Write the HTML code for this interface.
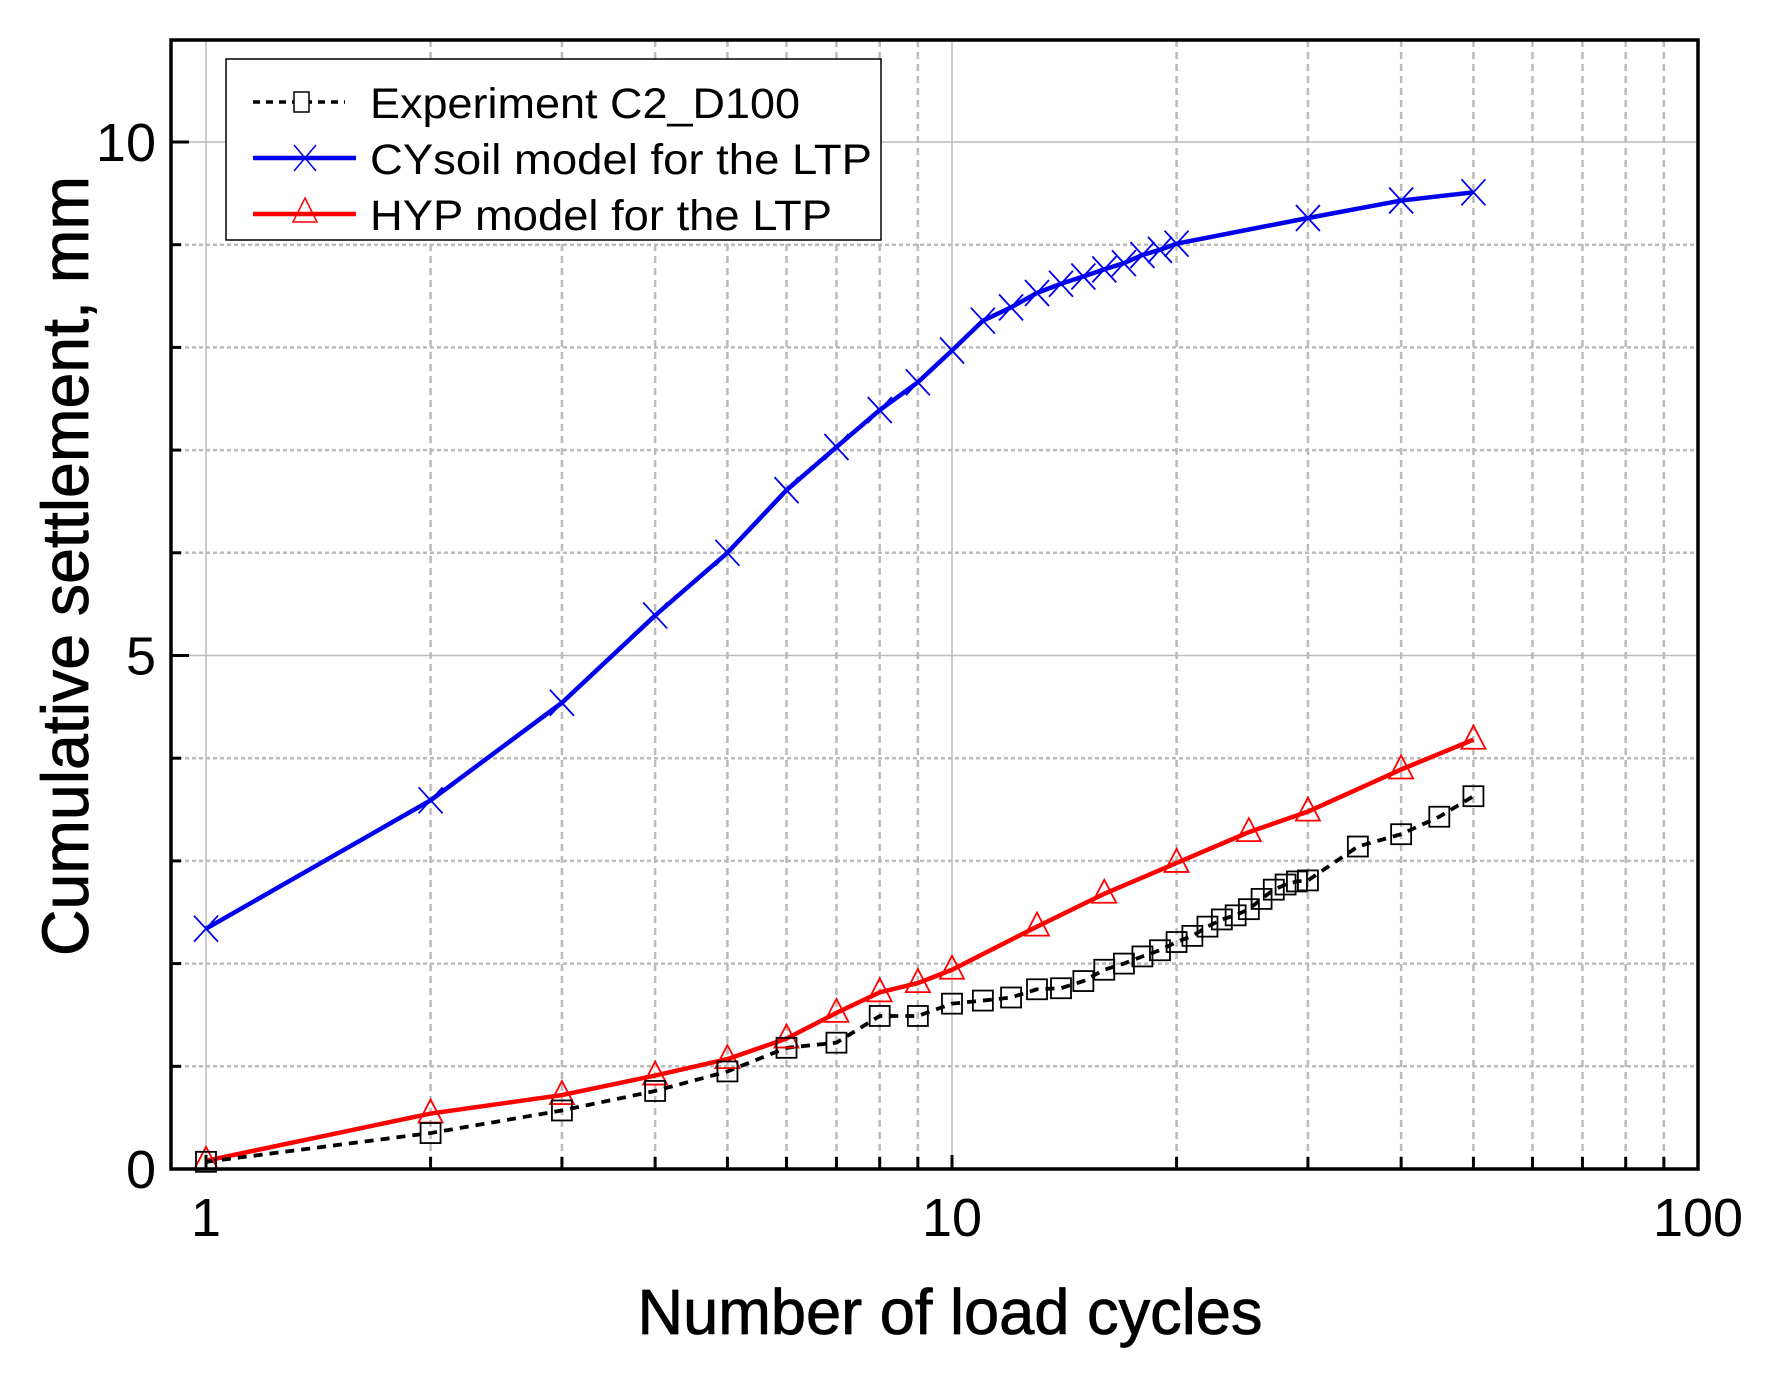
<!DOCTYPE html>
<html><head><meta charset="utf-8"><style>
body{margin:0;background:#fff;}
svg text{font-family:"Liberation Sans",Arial,sans-serif;}
</style></head><body>
<svg id="chart" width="1784" height="1372" xmlns="http://www.w3.org/2000/svg">
<g id="grid"></g>
<g id="series"></g>
<g id="axes"></g>
<text x="950" y="1334" font-size="64" text-anchor="middle" textLength="625" lengthAdjust="spacingAndGlyphs" stroke="#000" stroke-width="0.8">Number of load cycles</text>
<text transform="translate(88,566) rotate(-90)" font-size="66" text-anchor="middle" textLength="780" lengthAdjust="spacingAndGlyphs" stroke="#000" stroke-width="0.8">Cumulative settlement, mm</text>
<g>
<rect x="226" y="59" width="655" height="181" fill="#fff" stroke="#000" stroke-width="1.5"/>
<g>
<line x1="253" y1="102" x2="345" y2="102" stroke="#000" stroke-width="3.5" stroke-dasharray="7,6"/>
<rect x="294" y="92" width="15" height="20" fill="#fff" stroke="#000" stroke-width="1.5"/>
<text x="370" y="118" font-size="43" textLength="430" lengthAdjust="spacingAndGlyphs">Experiment C2_D100</text></g>
<g>
<line x1="253" y1="158" x2="356" y2="158" stroke="#0000ee" stroke-width="4.5"/>
<path d="M294,145 L316,171 M316,145 L294,171" stroke="#0000ee" stroke-width="1.5"/>
<text x="370" y="174" font-size="43" textLength="502" lengthAdjust="spacingAndGlyphs">CYsoil model for the LTP</text></g>
<g>
<line x1="253" y1="214" x2="356" y2="214" stroke="#ff0000" stroke-width="4.5"/>
<path d="M305,198 L317,222 L293,222 Z" fill="none" stroke="#ff0000" stroke-width="1.5"/>
<text x="370" y="230" font-size="43" textLength="462" lengthAdjust="spacingAndGlyphs">HYP model for the LTP</text></g>
</g>
</svg>
<script>
const expX=[1,2,3,4,5,6,7,8,9,10,11,12,13,14,15,16,17,18,19,20,21,22,23,24,25,26,27,28,29,30,35,40,45,50];
const expY=[0.07,0.35,0.57,0.76,0.95,1.18,1.23,1.49,1.49,1.61,1.64,1.67,1.75,1.76,1.83,1.94,2.0,2.07,2.13,2.21,2.27,2.36,2.43,2.47,2.53,2.63,2.72,2.77,2.8,2.81,3.14,3.26,3.43,3.63];
const cyX=[1,2,3,4,5,6,7,8,9,10,11,12,13,14,15,16,17,18,19,20,30,40,50];
const cyY=[2.34,3.59,4.54,5.39,6.0,6.61,7.03,7.39,7.66,7.97,8.26,8.39,8.53,8.62,8.69,8.76,8.82,8.9,8.95,9.01,9.26,9.43,9.51];
const hypX=[1,2,3,4,5,6,7,8,9,10,13,16,20,25,30,40,50];
const hypY=[0.08,0.54,0.72,0.91,1.07,1.27,1.52,1.72,1.81,1.94,2.36,2.68,2.98,3.28,3.48,3.89,4.18];
const yTicks=[0,5,10];
const xTicks=[1,10,100];

const L=171,R=1698,T=40,B=1169;
const sx=v=>206+746*Math.log10(v);
const sy=v=>1169-102.7*v;
const NS="http://www.w3.org/2000/svg";
function mk(tag,attrs,parent){const e=document.createElementNS(NS,tag);for(const k in attrs)e.setAttribute(k,attrs[k]);parent.appendChild(e);return e;}
const grid=document.getElementById('grid'),series=document.getElementById('series'),axes=document.getElementById('axes');

for(let d=1;d<=100;d*=10){for(let m=1;m<=9;m++){const v=d*m;if(v>100)break;const x=sx(v);const major=(m===1);
 const g=mk('line',{x1:x,x2:x,y1:T,y2:B,stroke:'#bbb','stroke-width':major?1.5:2.5},grid);if(!major)g.setAttribute('stroke-dasharray','7,5');
 
 
 const t=mk('line',{x1:x,x2:x,y1:B,y2:B-(major?14:12),stroke:'#000','stroke-width':3},axes);
 
 }}
for(let v=1;v<=10;v++){const y=sy(v);const major=(v%5===0);
 const g=mk('line',{x1:L,x2:R,y1:y,y2:y,stroke:'#bbb','stroke-width':major?1.5:2.5},grid);if(!major)g.setAttribute('stroke-dasharray','4,3');
 
 
 const t=mk('line',{x1:L,x2:L+(major?18:10),y1:y,y2:y,stroke:'#000','stroke-width':3},axes);
 
 }
const frame=mk('rect',{x:L,y:T,width:R-L,height:B-T,fill:'none',stroke:'#000','stroke-width':3.5},axes);


xTicks.forEach(v=>{const t=mk('text',{x:sx(v),y:1236,'font-size':54,'text-anchor':'middle'},axes);t.textContent=v;
 
 });
yTicks.forEach(v=>{const t=mk('text',{x:156,y:sy(v)+19,'font-size':54,'text-anchor':'end'},axes);t.textContent=v;
 
 });

function pts(xs,ys){return xs.map((x,i)=>sx(x)+','+sy(ys[i])).join(' ');}
const lh=mk('polyline',{points:pts(hypX,hypY),fill:'none',stroke:'#ff0000','stroke-width':4.5},series);


const lc=mk('polyline',{points:pts(cyX,cyY),fill:'none',stroke:'#0000ee','stroke-width':4.5},series);


const le=mk('polyline',{points:pts(expX,expY),fill:'none',stroke:'#000','stroke-width':3.8,'stroke-dasharray':'9,7'},series);


hypX.forEach((v,i)=>{const x=sx(v),y=sy(hypY[i]);
 const p=mk('path',{d:`M${x},${y-14} L${x+12},${y+9} L${x-12},${y+9} Z`,fill:'none',stroke:'#ff0000','stroke-width':1.8},series);
 
 });
cyX.forEach((v,i)=>{const x=sx(v),y=sy(cyY[i]);
 const p=mk('path',{d:`M${x-12},${y-13} L${x+12},${y+13} M${x+12},${y-13} L${x-12},${y+13}`,stroke:'#0000ee','stroke-width':1.8},series);
 
 });
expX.forEach((v,i)=>{const x=sx(v),y=sy(expY[i]);
 const p=mk('rect',{x:x-10,y:y-10,width:20,height:20,fill:'none',stroke:'#000','stroke-width':1.8},series);
 
 });
</script>
</body></html>
